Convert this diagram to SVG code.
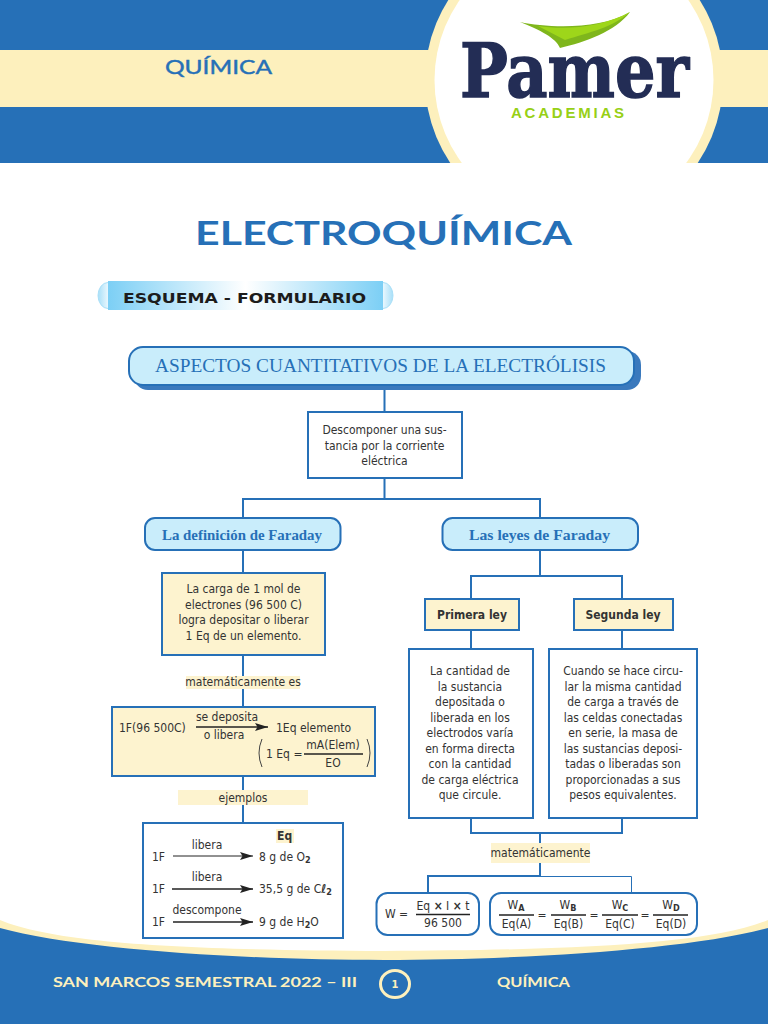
<svg xmlns="http://www.w3.org/2000/svg" width="768" height="1024" viewBox="0 0 768 1024">
<style>
text{font-family:"DejaVu Sans Condensed","DejaVu Sans",sans-serif;font-size:12px;fill:#333}
.m{text-anchor:middle}
.b{font-weight:bold}
.sub{font-size:9px;font-weight:bold}
.box{stroke:#2670b7;stroke-width:2;fill:#fff}
.cream{stroke:#2670b7;stroke-width:2;fill:#fdf3cf}
.sky{stroke:#2670b7;stroke-width:2;fill:#c9edfb}
.lab{fill:#fdf3cf}
.con{stroke:#2670b7;stroke-width:2;fill:none}
.ln{stroke:#222;stroke-width:1.6;fill:none}
.ar{stroke:#222;stroke-width:1.5;fill:none;marker-end:url(#ah)}
.par{stroke:#444;stroke-width:1;fill:none}
.hand{font-family:"Liberation Serif",serif;font-weight:bold;font-size:15.5px;fill:#2670b7}
.head{font-family:"Lato","Liberation Sans",sans-serif;font-weight:bold;fill:#2670b7}
.foot{font-family:"Lato","Liberation Sans",sans-serif;font-weight:bold;font-size:14px;fill:#fdf0bd}
</style>
<defs>
<marker id="ah" markerUnits="userSpaceOnUse" markerWidth="14" markerHeight="10" refX="13" refY="4" orient="auto"><path d="M0 0L13 4L0 8L2.500 4Z" fill="#222"/></marker>
<linearGradient id="pill" x1="0" x2="1" y1="0" y2="0"><stop offset="0" stop-color="#7ccff5"/><stop offset=".5" stop-color="#fff"/><stop offset="1" stop-color="#7ccff5"/></linearGradient>
<linearGradient id="cap" x1="0" x2="1" y1="0" y2="0"><stop offset="0" stop-color="#a8dff8"/><stop offset=".5" stop-color="#e8f7fe"/><stop offset="1" stop-color="#a8dff8"/></linearGradient>
<clipPath id="hc"><rect x="0" y="0" width="768" height="163"/></clipPath>
</defs>

<g id="header">
<rect x="0" y="0" width="768" height="163" fill="#2670b7"/>
<rect x="0" y="50" width="768" height="57" fill="#fdf0bd"/>
<g clip-path="url(#hc)">
<circle cx="574" cy="80" r="149" fill="#fdf0bd"/>
<circle cx="574" cy="80" r="139.500" fill="#fff"/>
</g>
<text class="head" x="165" y="74" style="font-size:19px;font-weight:normal;stroke:#2670b7;stroke-width:.4" textLength="107" lengthAdjust="spacingAndGlyphs">QUÍMICA</text>
<path d="M520 22C548 28 600 30 630 12C615 32 585 42 560 48C556 38 540 30 520 22Z" fill="#7fb61c"/>
<path d="M538 26C565 30 600 28 630 12C612 28 590 32 565 40Z" fill="#9ed61a"/>
<text x="460" y="97" textLength="229" lengthAdjust="spacingAndGlyphs" style="font-family:'DejaVu Serif',serif;font-weight:bold;font-size:75px;fill:#232d55;stroke:#232d55;stroke-width:1.5">Pamer</text>
<text x="511" y="118" textLength="113" style="font-family:'Liberation Sans',sans-serif;font-weight:bold;font-size:15px;fill:#97d016">ACADEMIAS</text>
</g>

<g id="title"><text class="head" x="195" y="245" style="font-size:32px" textLength="377" lengthAdjust="spacingAndGlyphs">ELECTROQUÍMICA</text></g>

<g id="esquema">
<ellipse cx="108" cy="295.500" rx="10" ry="13" fill="url(#cap)" stroke="#a8dff8"/>
<ellipse cx="383" cy="295.500" rx="10" ry="13" fill="url(#cap)" stroke="#a8dff8"/>
<rect x="108" y="281" width="275" height="29" fill="url(#pill)"/>
<text x="123" y="303" textLength="243" lengthAdjust="spacingAndGlyphs" style="font-family:'DejaVu Sans',sans-serif;font-weight:bold;font-size:14px;fill:#1c1c1c">ESQUEMA - FORMULARIO</text>
</g>

<g id="footer">
<path d="M0 920C60 945 200 950 384 951C568 950 708 945 768 920V1024H0Z" fill="#fdf0bd"/>
<path d="M0 928C80 950 250 960 384 960C518 960 688 950 768 928V1024H0Z" fill="#2670b7"/>
<text class="foot" x="53" y="987" textLength="304" lengthAdjust="spacingAndGlyphs">SAN MARCOS SEMESTRAL 2022 – III</text>
<ellipse cx="395" cy="984" rx="14.500" ry="13.500" fill="none" stroke="#fdf0bd" stroke-width="3"/>
<text class="m b" x="395" y="988" style="font-size:11px;fill:#fdf0bd">1</text>
<text class="foot" x="497" y="987" textLength="73" lengthAdjust="spacingAndGlyphs">QUÍMICA</text>
</g>

<g id="connectors">
<path class="con" d="M384.500 385V412M384.500 478V499M243 518V499H540V518M243 550V573M243 655V707M243 776V823"/>
<path class="con" d="M540 550V576M471 599V576H622V599M471 630V649M622 630V649M471 818V833H622V818M540 833V876M428 893V876H540"/>
<path class="con" style="stroke-width:1" d="M540 876.500H631.500V893"/>
</g>

<g id="n-main">
<rect x="134" y="351" width="507" height="39" rx="14" fill="#3a79bd"/>
<rect x="129" y="347" width="505" height="38" rx="14" class="sky"/>
<text x="155" y="372" textLength="451" lengthAdjust="spacingAndGlyphs" style="font-family:'Liberation Serif',serif;font-size:18px;fill:#2670b7">ASPECTOS CUANTITATIVOS DE LA ELECTRÓLISIS</text>
</g>

<g id="n-descomponer">
<rect x="308" y="412" width="154" height="66" class="box"/>
<text class="m" x="384.500" y="434">Descomponer una sus-</text>
<text class="m" x="384.500" y="449.500">tancia por la corriente</text>
<text class="m" x="384.500" y="465">eléctrica</text>
</g>

<g id="n-definicion">
<rect x="145" y="518" width="195.500" height="32" rx="10" class="sky"/>
<text class="hand" x="162" y="540" textLength="160" lengthAdjust="spacingAndGlyphs">La definición de Faraday</text>
</g>
<g id="n-leyes">
<rect x="442.500" y="518" width="195.500" height="32" rx="10" class="sky"/>
<text class="hand" x="469" y="540" textLength="141" lengthAdjust="spacingAndGlyphs">Las leyes de Faraday</text>
</g>

<g id="n-carga">
<rect x="162" y="573" width="163" height="82" class="cream"/>
<text class="m" x="243.500" y="593">La carga de 1 mol de</text>
<text class="m" x="243.500" y="608.500">electrones (96 500 C)</text>
<text class="m" x="243.500" y="624">logra depositar o liberar</text>
<text class="m" x="243.500" y="639.500">1 Eq de un elemento.</text>
</g>

<g id="l-mat-es">
<rect x="186" y="676" width="114" height="13" class="lab"/>
<text class="m" x="243" y="686">matemáticamente es</text>
</g>

<g id="n-formula">
<rect x="112" y="707" width="263" height="69" class="cream"/>
<text x="119" y="732">1F(96 500C)</text>
<text class="m" x="227" y="721">se deposita</text>
<path class="ar" d="M196 727H268"/>
<text class="m" x="224" y="739">o libera</text>
<text x="276" y="732">1Eq elemento</text>
<path class="par" d="M262 739Q256 753 262 767M367 739Q373 753 367 767"/>
<text x="266" y="758">1 Eq =</text>
<text class="m" x="333" y="749">mA(Elem)</text>
<path class="ln" d="M304 754H363"/>
<text class="m" x="333" y="767">EO</text>
</g>

<g id="l-ejemplos">
<rect x="178" y="790" width="130" height="15" class="lab"/>
<text class="m" x="243" y="802">ejemplos</text>
</g>

<g id="n-ejemplos">
<rect x="143" y="823" width="200" height="115" class="box"/>
<rect x="276" y="829" width="18" height="14" class="lab"/>
<text class="b" x="277" y="840">Eq</text>
<text x="152" y="861">1F</text>
<text class="m" x="207" y="849">libera</text>
<path class="ar" style="stroke-width:1" d="M173 856H253"/>
<text x="259" y="861">8 g de O<tspan class="sub" dy="2">2</tspan></text>
<text x="152" y="893">1F</text>
<text class="m" x="207" y="881">libera</text>
<path class="ar" d="M172 889H253"/>
<text x="259" y="893">35,5 g de C<tspan class="b" font-style="italic">ℓ</tspan><tspan class="sub" dy="2">2</tspan></text>
<text x="152" y="926">1F</text>
<text class="m" x="207" y="914">descompone</text>
<path class="ar" d="M173 922H253"/>
<text x="259" y="926">9 g de H<tspan class="sub" dy="2">2</tspan><tspan dy="-2">O</tspan></text>
</g>

<g id="n-primera">
<rect x="425" y="599" width="94" height="31" class="cream"/>
<text class="m b" x="472" y="619" style="font-size:12px">Primera ley</text>
</g>
<g id="n-segunda">
<rect x="574" y="599" width="99" height="31" class="cream"/>
<text class="m b" x="623" y="619" style="font-size:12px">Segunda ley</text>
</g>

<g id="n-ley1">
<rect x="409" y="649" width="124" height="169" class="box"/>
<text class="m" x="470" y="675">La cantidad de</text>
<text class="m" x="470" y="691">la sustancia</text>
<text class="m" x="470" y="706">depositada o</text>
<text class="m" x="470" y="722">liberada en los</text>
<text class="m" x="470" y="737">electrodos varía</text>
<text class="m" x="470" y="753">en forma directa</text>
<text class="m" x="470" y="768">con la cantidad</text>
<text class="m" x="470" y="784">de carga eléctrica</text>
<text class="m" x="470" y="799">que circule.</text>
</g>

<g id="n-ley2">
<rect x="549" y="649" width="148" height="169" class="box"/>
<text class="m" x="623" y="675">Cuando se hace circu-</text>
<text class="m" x="623" y="691">lar la misma cantidad</text>
<text class="m" x="623" y="706">de carga a través de</text>
<text class="m" x="623" y="722">las celdas conectadas</text>
<text class="m" x="623" y="737">en serie, la masa de</text>
<text class="m" x="623" y="753">las sustancias deposi-</text>
<text class="m" x="623" y="768">tadas o liberadas son</text>
<text class="m" x="623" y="784">proporcionadas a sus</text>
<text class="m" x="623" y="799">pesos equivalentes.</text>
</g>

<g id="l-mat">
<rect x="491" y="843" width="99" height="20" class="lab"/>
<text class="m" x="540.500" y="857">matemáticamente</text>
</g>

<g id="n-w">
<rect x="376.500" y="893" width="102.500" height="42" rx="11" class="box"/>
<text x="385" y="918">W =</text>
<text class="m" x="443" y="910">Eq <tspan class="b">×</tspan> I <tspan class="b">×</tspan> t</text>
<path class="ln" d="M416 914.500H470"/>
<text class="m" x="443" y="927">96 500</text>
</g>

<g id="n-ratios">
<rect x="490" y="893" width="207" height="42" rx="11" class="box"/>
<text class="m" x="516" y="909">W<tspan class="sub" dy="2">A</tspan></text>
<path class="ln" d="M499 915H534"/>
<text class="m" x="516.500" y="928">Eq(A)</text>
<text class="m" x="542" y="919">=</text>
<text class="m" x="568" y="909">W<tspan class="sub" dy="2">B</tspan></text>
<path class="ln" d="M551 915H586"/>
<text class="m" x="568.500" y="928">Eq(B)</text>
<text class="m" x="594" y="919">=</text>
<text class="m" x="620" y="909">W<tspan class="sub" dy="2">C</tspan></text>
<path class="ln" d="M602 915H638"/>
<text class="m" x="620" y="928">Eq(C)</text>
<text class="m" x="645" y="919">=</text>
<text class="m" x="671" y="909">W<tspan class="sub" dy="2">D</tspan></text>
<path class="ln" d="M653 915H688"/>
<text class="m" x="671" y="928">Eq(D)</text>
</g>
</svg>
